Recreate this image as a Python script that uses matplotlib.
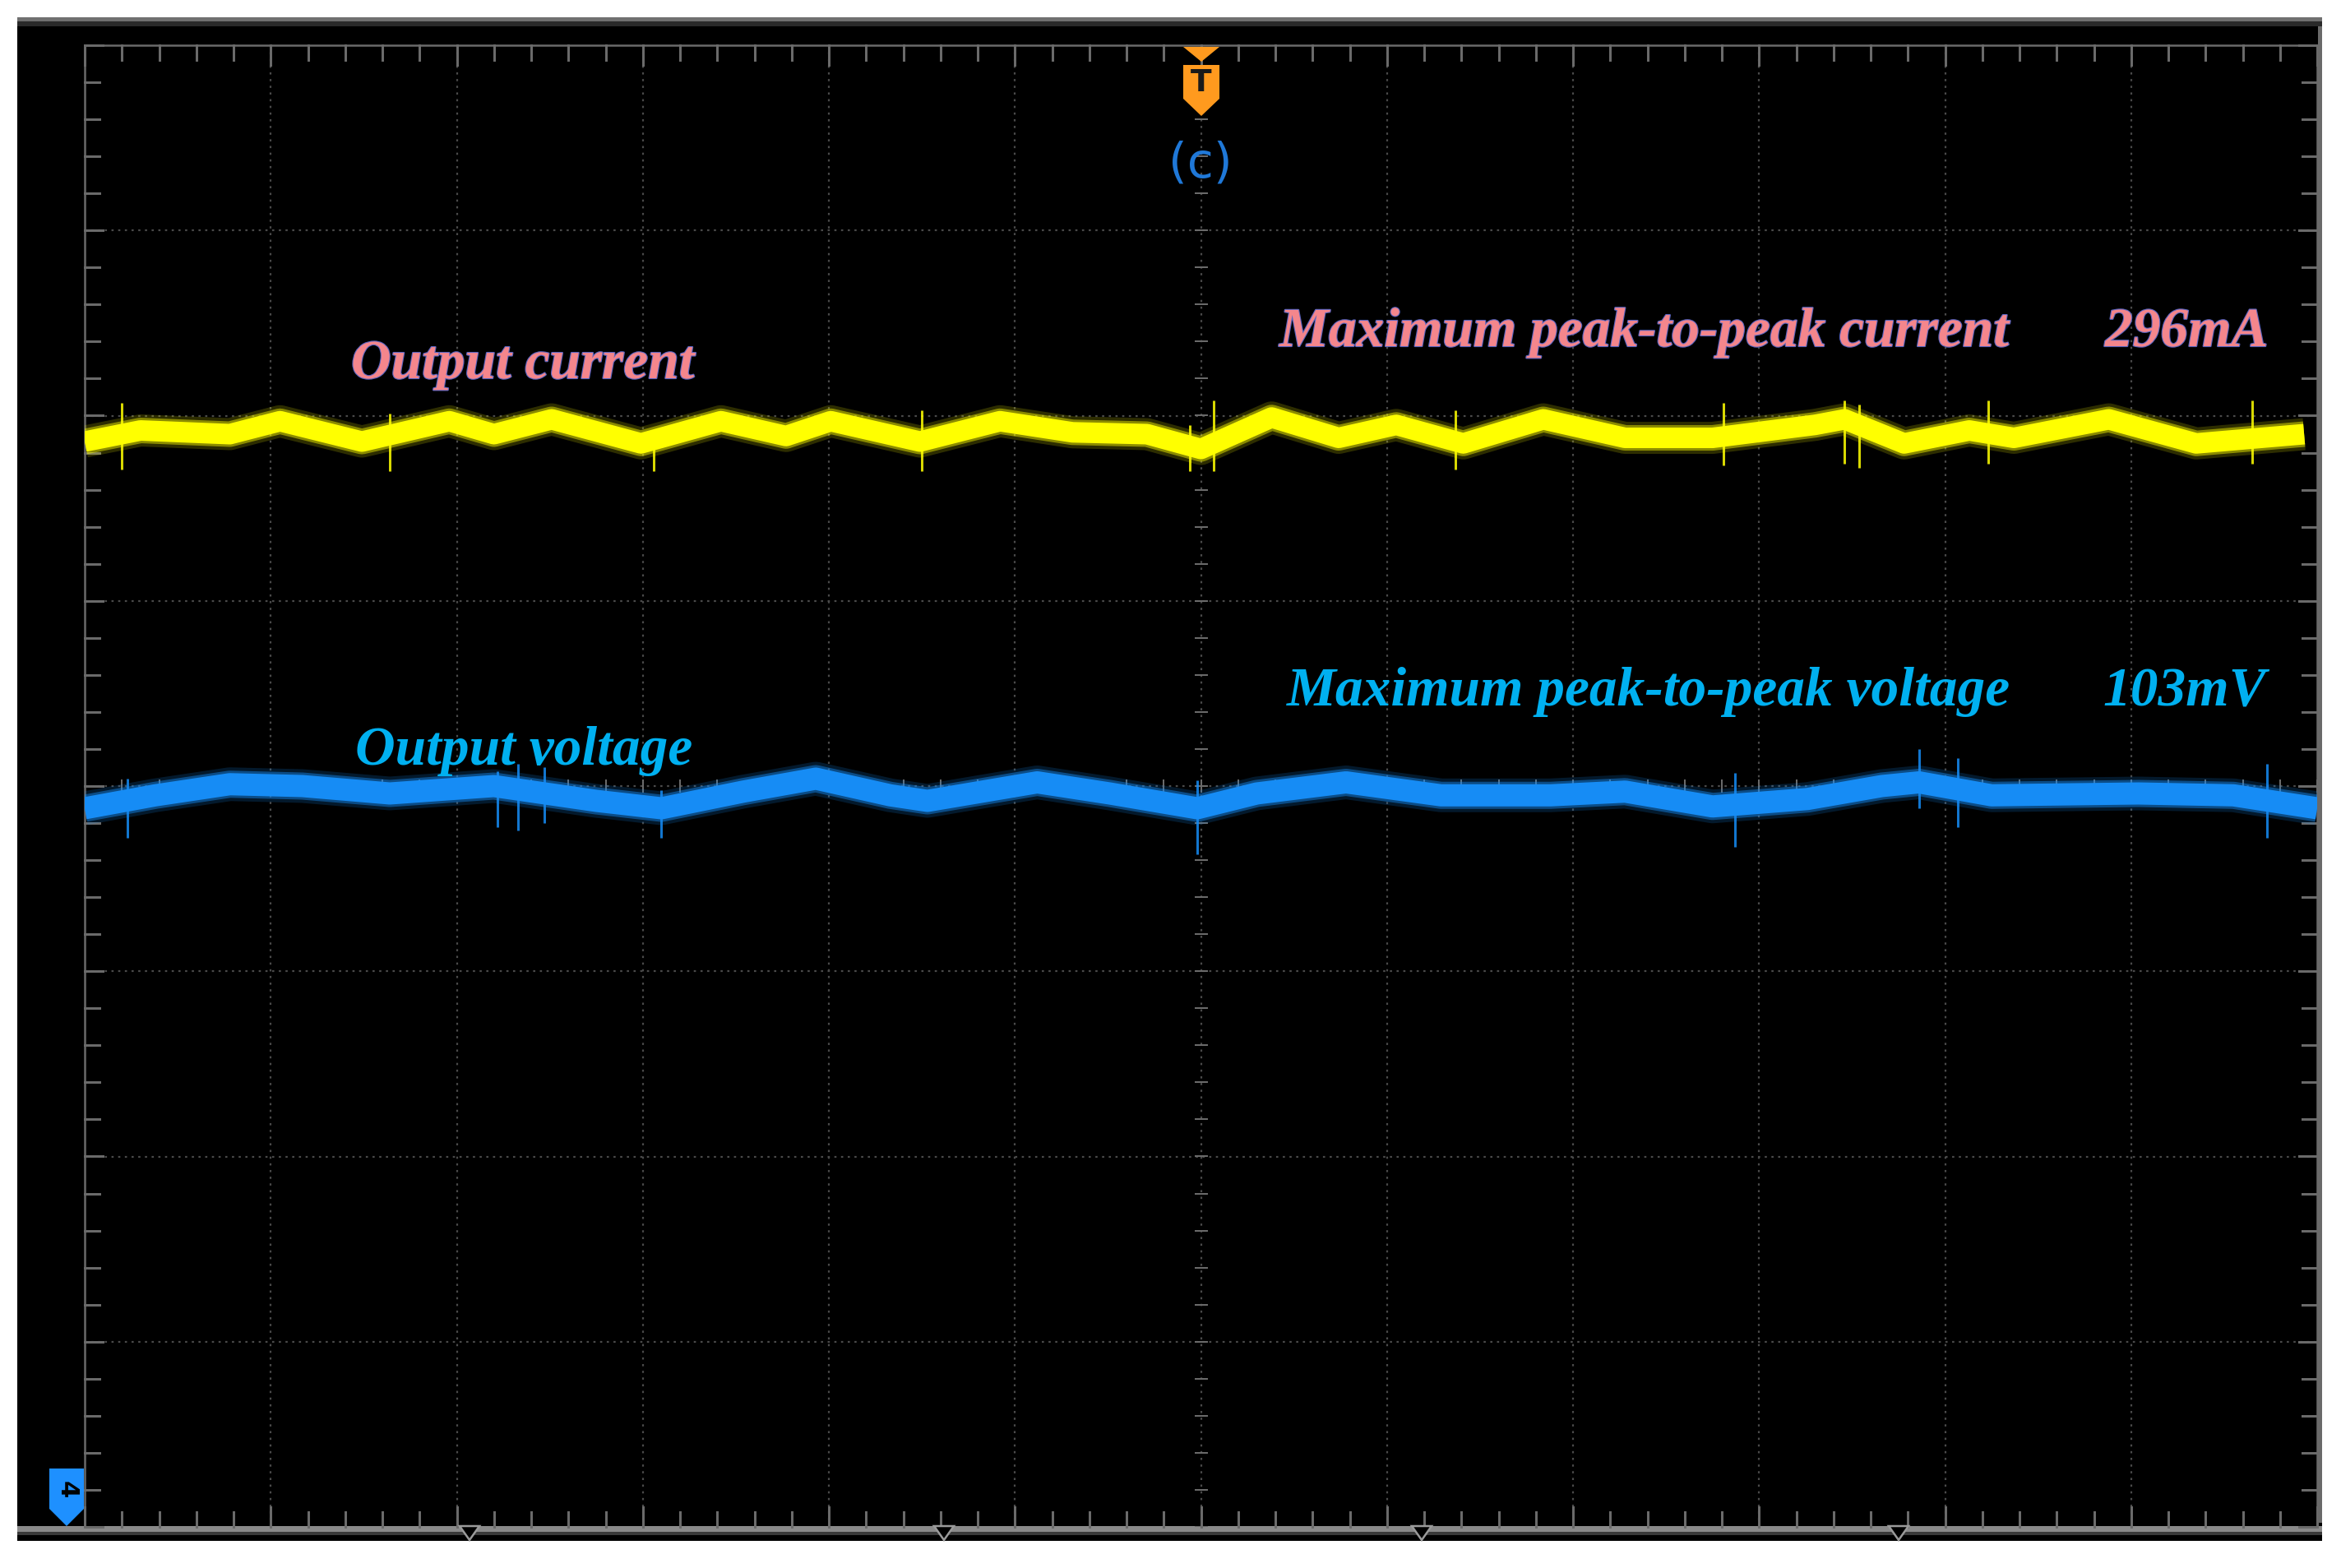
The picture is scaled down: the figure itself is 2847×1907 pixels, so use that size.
import numpy as np
import matplotlib
matplotlib.use('Agg')
import matplotlib.pyplot as plt
import matplotlib.patheffects as pe
from matplotlib.patches import Rectangle, Polygon

# ---------------- data (time in divisions 0..12, amplitude in divisions -4..4) -------------
current_t = [0.00, 0.30, 0.78, 1.05, 1.49, 1.96, 2.20, 2.51, 2.99, 3.42, 3.77, 4.01, 4.49,
             4.92, 5.31, 5.71, 6.00, 6.38, 6.74, 7.05, 7.41, 7.84, 8.28, 8.75, 9.30, 9.46,
             9.78, 10.13, 10.37, 10.88, 11.35, 11.93]
current_v = [1.86, 1.92, 1.90, 1.97, 1.86, 1.97, 1.90, 1.98, 1.85, 1.97, 1.89, 1.97, 1.86,
             1.97, 1.91, 1.90, 1.82, 1.99, 1.88, 1.95, 1.85, 1.98, 1.88, 1.88, 1.95, 1.98,
             1.85, 1.92, 1.88, 1.98, 1.85, 1.90]
current_spike_t = [0.20, 1.64, 3.06, 4.50, 5.94, 6.07, 7.37, 8.81, 9.46, 9.54, 10.23, 11.65]
current_spike_top = [2.07, 2.01, 1.86, 2.03, 1.95, 2.08, 2.03, 2.07, 2.08, 2.06, 2.08, 2.08]
current_spike_bot = [1.71, 1.70, 1.70, 1.70, 1.70, 1.70, 1.71, 1.73, 1.74, 1.72, 1.74, 1.74]

voltage_t = [0.00, 0.38, 0.78, 1.17, 1.64, 2.20, 2.75, 3.10, 3.54, 3.93, 4.33, 4.53, 5.12,
             5.51, 5.98, 6.30, 6.78, 7.29, 7.88, 8.28, 8.75, 9.26, 9.66, 9.86, 10.25, 11.04,
             11.55, 12.00]
voltage_v = [-0.12, -0.05, 0.01, 0.00, -0.04, 0.00, -0.08, -0.12, -0.03, 0.04, -0.05, -0.08,
             0.02, -0.04, -0.12, -0.04, 0.02, -0.05, -0.05, -0.03, -0.11, -0.07, 0.00, 0.02,
             -0.05, -0.04, -0.05, -0.12]
voltage_spike_t = [0.23, 2.22, 2.33, 2.47, 3.10, 5.98, 8.87, 9.86, 10.07, 11.73]
voltage_spike_top = [0.04, 0.08, 0.12, 0.10, -0.02, 0.03, 0.07, 0.20, 0.15, 0.12]
voltage_spike_bot = [-0.28, -0.22, -0.24, -0.20, -0.28, -0.37, -0.33, -0.12, -0.22, -0.28]

label_current = "Output current"
label_voltage = "Output voltage"
pp_current_text = "Maximum peak-to-peak current"
pp_voltage_text = "Maximum peak-to-peak voltage"
pp_current_value = "296mA"
pp_voltage_value = "103mV"
panel_label = "(c)"

# ---------------- layout helpers ----------------
W, H = 2847, 1907
def px(p):  # pixels -> points at dpi 100
    return p * 72.0 / 100.0

fig = plt.figure(figsize=(W / 100, H / 100), dpi=100)
fig.patch.set_facecolor('white')

bg = fig.add_axes([0, 0, 1, 1], zorder=0)
bg.set_xlim(0, W); bg.set_ylim(H, 0); bg.axis('off')

# black scope frame
bg.add_patch(Rectangle((21, 21), 2824 - 21, 1874 - 21, facecolor='black', edgecolor='none'))
bg.add_patch(Rectangle((21, 21), 2824 - 21, 5, facecolor='#707070', edgecolor='none'))
bg.add_patch(Rectangle((21, 26), 2824 - 21, 6, facecolor='#2a2a2a', edgecolor='none'))
# bottom bar
bg.add_patch(Rectangle((21, 1856), 2824 - 21, 7, facecolor='#8a8a8a', edgecolor='none'))
bg.add_patch(Rectangle((21, 1863), 2824 - 21, 4, facecolor='#3a3a3a', edgecolor='none'))
# right border
bg.add_patch(Rectangle((2819, 32), 5, 1842 - 32 + 10, facecolor='#6a6a6a', edgecolor='none'))

# ---------------- main graticule axes ----------------
L, R, T, B = 103, 2818, 55, 1857
ax = fig.add_axes([L / W, (H - B) / H, (R - L) / W, (B - T) / H], zorder=2)
ax.set_facecolor('none')
ax.set_xlim(0, 12)
ax.set_ylim(-4, 4)
ax.axis('off')

gcol = '#4a4a4a'
for xv in range(1, 12):
    ax.axvline(xv, color=gcol, lw=px(2.2), linestyle=(0, (1.2, 2.5)), zorder=1)
for yv in range(-3, 4):
    ax.axhline(yv, color=gcol, lw=px(2.2), linestyle=(0, (1.2, 2.5)), zorder=1)

ecol = '#6a6a6a'
ax.plot([0, 0], [-4, 4], color=ecol, lw=px(2.5), zorder=1, clip_on=False)
ax.plot([0, 12], [4, 4], color=ecol, lw=px(2.5), zorder=1, clip_on=False)
ax.plot([12, 12], [-4, 4], color=ecol, lw=px(2.5), zorder=1, clip_on=False)

xt = np.arange(0, 12.001, 0.2)
yt = np.arange(-4, 4.001, 0.2)
xmaj = np.isclose(xt, np.round(xt))
ymaj = np.isclose(yt, np.round(yt))
dy = 8.0 / (B - T)   # division per pixel vertical
dx = 12.0 / (R - L)
for x0, mj in zip(xt, xmaj):
    ln = (24 if mj else 18) * dy
    ax.plot([x0, x0], [4, 4 - ln], color=ecol, lw=px(3), zorder=1, clip_on=False)
    ax.plot([x0, x0], [-4, -4 + ln], color=ecol, lw=px(3), zorder=1, clip_on=False)
    ax.plot([x0, x0], [-7 * dy, 7 * dy], color=ecol, lw=px(2), zorder=1)
for y0, mj in zip(yt, ymaj):
    ln = (22 if mj else 18) * dx
    ax.plot([0, ln], [y0, y0], color=ecol, lw=px(3), zorder=1, clip_on=False)
    ax.plot([12, 12 - ln], [y0, y0], color=ecol, lw=px(3), zorder=1, clip_on=False)
    ax.plot([6 - 7 * dx, 6 + 7 * dx], [y0, y0], color=ecol, lw=px(2), zorder=1)

# ---------------- traces ----------------
ycol = '#ffff00'
bcol = '#168cf5'
for tt, vv, col, spt, stop, sbot, core in [
        (current_t, current_v, ycol, current_spike_t, current_spike_top, current_spike_bot, 25),
        (voltage_t, voltage_v, bcol, voltage_spike_t, voltage_spike_top, voltage_spike_bot, 27)]:
    ax.vlines(spt, sbot, stop, color=col, lw=px(3), alpha=0.85, zorder=3)
    ax.plot(tt, vv, color=col, lw=px(core + 14), alpha=0.18, solid_joinstyle='round',
            solid_capstyle='butt', zorder=3)
    ax.plot(tt, vv, color=col, lw=px(core + 6), alpha=0.45, solid_joinstyle='round',
            solid_capstyle='butt', zorder=3)
    ax.plot(tt, vv, color=col, lw=px(core), alpha=1.0, solid_joinstyle='round',
            solid_capstyle='butt', zorder=4)

# ---------------- annotations ----------------
def xd(xp):
    return (xp - L) * dx
def yd(yp):
    return (956 - yp) * dy

pink = '#f4868c'
cyan = '#00b0f0'
tfont = dict(family='Liberation Serif', weight='bold', style='italic', fontsize=48.5)
pfx = [pe.withStroke(linewidth=px(2.2), foreground='#5864c0')]
ax.text(xd(427), yd(460), label_current, color=pink, ha='left', va='baseline', zorder=6,
        path_effects=pfx, **tfont)
ax.text(xd(1556), yd(421), pp_current_text, color=pink, ha='left', va='baseline', zorder=6,
        path_effects=pfx, **tfont)
ax.text(xd(2560), yd(421), pp_current_value, color=pink, ha='left', va='baseline', zorder=6,
        path_effects=pfx, **tfont)
ax.text(xd(432), yd(930), label_voltage, color=cyan, ha='left', va='baseline', zorder=6, **tfont)
ax.text(xd(1565), yd(858), pp_voltage_text, color=cyan, ha='left', va='baseline', zorder=6, **tfont)
ax.text(xd(2557), yd(858), pp_voltage_value, color=cyan, ha='left', va='baseline', zorder=6, **tfont)

# ---------------- overlay markers ----------------
fg = fig.add_axes([0, 0, 1, 1], zorder=5)
fg.set_facecolor('none')
fg.set_xlim(0, W); fg.set_ylim(H, 0); fg.axis('off')

orange = '#ff9a1e'
fg.add_patch(Polygon([(1439, 57), (1483, 57), (1461, 75)], closed=True, facecolor=orange, edgecolor='none'))
fg.add_patch(Polygon([(1439, 79), (1483, 79), (1483, 120), (1461, 141), (1439, 120)],
                     closed=True, facecolor=orange, edgecolor='none'))
fg.text(1461, 101, 'T', color='#1a1a1a', ha='center', va='center', fontsize=27,
        family='DejaVu Sans', weight='bold')
fg.text(1460, 199, panel_label, color='#1f78d8', ha='center', va='center', fontsize=42,
        family='DejaVu Sans')

# channel 4 marker
fg.add_patch(Polygon([(60, 1786), (102, 1786), (102, 1835), (81, 1856), (60, 1835)],
                     closed=True, facecolor='#1e90ff', edgecolor='none'))
fg.text(81, 1812, '4', color='black', ha='center', va='center', fontsize=22, rotation=-90,
        family='DejaVu Sans', weight='bold')

# bottom time markers
for xc in [571, 1148, 1729, 2309]:
    fg.add_patch(Polygon([(xc - 12, 1856), (xc + 12, 1856), (xc, 1873)], closed=True,
                         facecolor='black', edgecolor='#9a9a9a', lw=px(2.5)))

fig.savefig('out.png', dpi=100, facecolor='white')
